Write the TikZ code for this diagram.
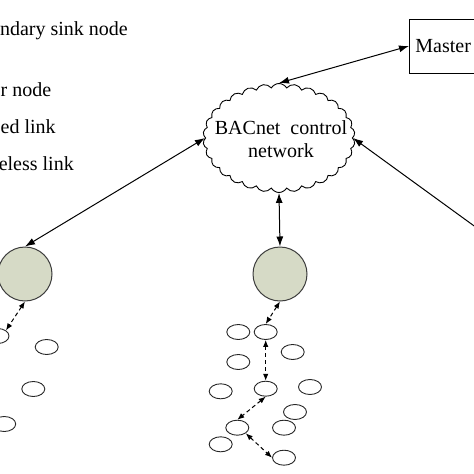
\documentclass[tikz,border=0pt]{standalone}
\usepackage{fontspec}
\setmainfont{Liberation Serif}
\usetikzlibrary{shapes.symbols,shapes.geometric,arrows.meta}
\definecolor{sinkfill}{RGB}{214,218,198}
\definecolor{sinkedge}{RGB}{60,60,60}
\begin{document}
\begin{tikzpicture}[x=1pt,y=-1pt,
  lbl/.style={font=\fontsize{20}{23}\selectfont, inner sep=0pt},
  sink/.style={circle, draw=sinkedge, fill=sinkfill, line width=1pt, minimum size=54pt, inner sep=0pt},
  sensor/.style={ellipse, draw=black!85, line width=0.9pt, minimum width=23pt, minimum height=15pt, inner sep=0pt},
  wired/.style={arrows={Latex[length=10pt,width=7pt]-Latex[length=10pt,width=7pt]}, line width=1pt},
  wiredone/.style={arrows={-Latex[length=10pt,width=7pt]}, line width=1pt},
  wless/.style={arrows={Latex[length=7pt,width=5.5pt]-Latex[length=7pt,width=5.5pt]}, line width=1pt, dash pattern=on 4pt off 3pt},
  boxst/.style={draw, line width=0.9pt, lbl, inner xsep=6pt, minimum height=54pt, text width=108pt, align=left},
  netcloud/.style={cloud, draw, cloud puffs=30, cloud puff arc=120, minimum width=152pt, minimum height=109pt, inner sep=0pt, line width=0.9pt}
]
\useasboundingbox (0,0) rectangle (474,474);
\clip (0,0) rectangle (474,474);

% legend texts (cut at the left edge)
\node[lbl, anchor=base east] (t1) at (128,35) {ndary sink node};
\node[lbl, anchor=base west] (t2) at (0.5,96) {r node};
\node[lbl, anchor=base west] (t3) at (0.5,133) {ed link};
\node[lbl, anchor=base east] (t4) at (74,170) {eless link};

% master box
\node[boxst, anchor=west] (master) at (409,46) {Master};

% cloud
\node[netcloud] (net) at (279,138) {};
\node[lbl, align=center] (nettext) at (281,139) {BACnet\ \ control\\network};

% sink nodes
\node[sink] (L) at (25,274) {};
\node[sink] (M) at (280,274) {};

% left sensors
\node[sensor] (l1) at (-2.5,336) {};
\node[sensor] (l2) at (46.7,347) {};
\node[sensor] (l3) at (33.3,389) {};
\node[sensor] (l4) at (4.2,424) {};

% middle sensors
\node[sensor] (e1) at (238.3,332) {};
\node[sensor] (e2) at (265.7,332) {};
\node[sensor] (e3) at (292.7,352) {};
\node[sensor] (e4) at (238.3,362) {};
\node[sensor] (e5) at (220.7,391.3) {};
\node[sensor] (e6) at (265.7,388.7) {};
\node[sensor] (e7) at (310,387) {};
\node[sensor] (e8) at (295,412) {};
\node[sensor] (e9) at (237.3,427.7) {};
\node[sensor] (e10) at (284,427.7) {};
\node[sensor] (e11) at (220.7,444.3) {};
\node[sensor] (e12) at (284,457.7) {};

\coordinate (R) at (510,252);

% wired links
\draw[wired] (net.north) -- (master.west);
\draw[wired] (net.west) -- (L.north);
\draw[wired] (net.south) -- (M.north);
\draw[wiredone] (R) -- (net.east);

% wireless links
\draw[wless] (M.south) -- (e2.north);
\draw[wless] (e2.south) -- (e6.north);
\draw[wless] (e6.south) -- (e9.north);
\draw[wless] (e9.south east) -- (e12.west);
\draw[wless] (L.south) -- (l1.north east);
\end{tikzpicture}
\end{document}
